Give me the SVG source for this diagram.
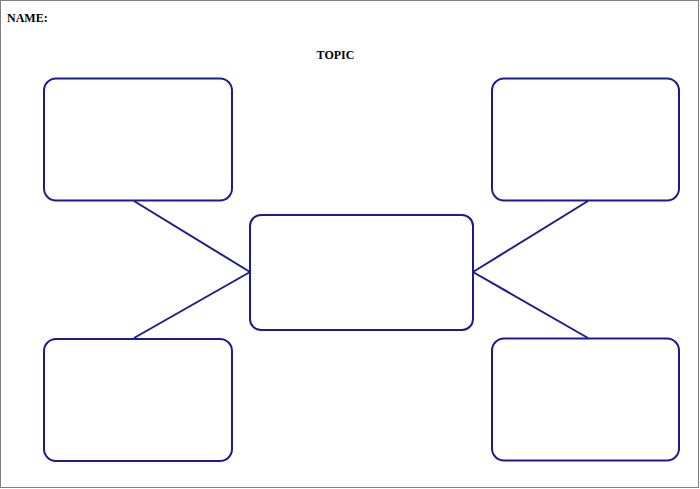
<svg xmlns="http://www.w3.org/2000/svg" width="700" height="489" viewBox="0 0 700 489">
<style>
.box{fill:#fff;stroke:#1c1c8f;stroke-width:2}
.conn line{stroke:#1c1c8f;stroke-width:2}
.lbl{font-family:"Liberation Serif",serif;font-weight:bold;font-size:12px;fill:#000}
</style>
<rect x="0.5" y="0.5" width="698" height="487" fill="#fff" stroke="#808080" stroke-width="1"/>
<text class="lbl" x="7" y="22">NAME:</text>
<text class="lbl" x="335.5" y="59" text-anchor="middle">TOPIC</text>
<g id="connectors" class="conn">
<line x1="134" y1="201" x2="250" y2="272"/>
<line x1="134" y1="338" x2="250" y2="272"/>
<line x1="473" y1="272" x2="588" y2="201"/>
<line x1="473" y1="272" x2="588" y2="338"/>
</g>
<g id="node-tl"><rect class="box" x="44" y="78.5" width="188" height="122" rx="12"/></g>
<g id="node-tr"><rect class="box" x="492" y="78.5" width="187" height="122" rx="12"/></g>
<g id="node-center"><rect class="box" x="250" y="215" width="223" height="115" rx="11"/></g>
<g id="node-bl"><rect class="box" x="44" y="339" width="188" height="122" rx="12"/></g>
<g id="node-br"><rect class="box" x="492" y="338.5" width="187" height="122" rx="12"/></g>
</svg>
